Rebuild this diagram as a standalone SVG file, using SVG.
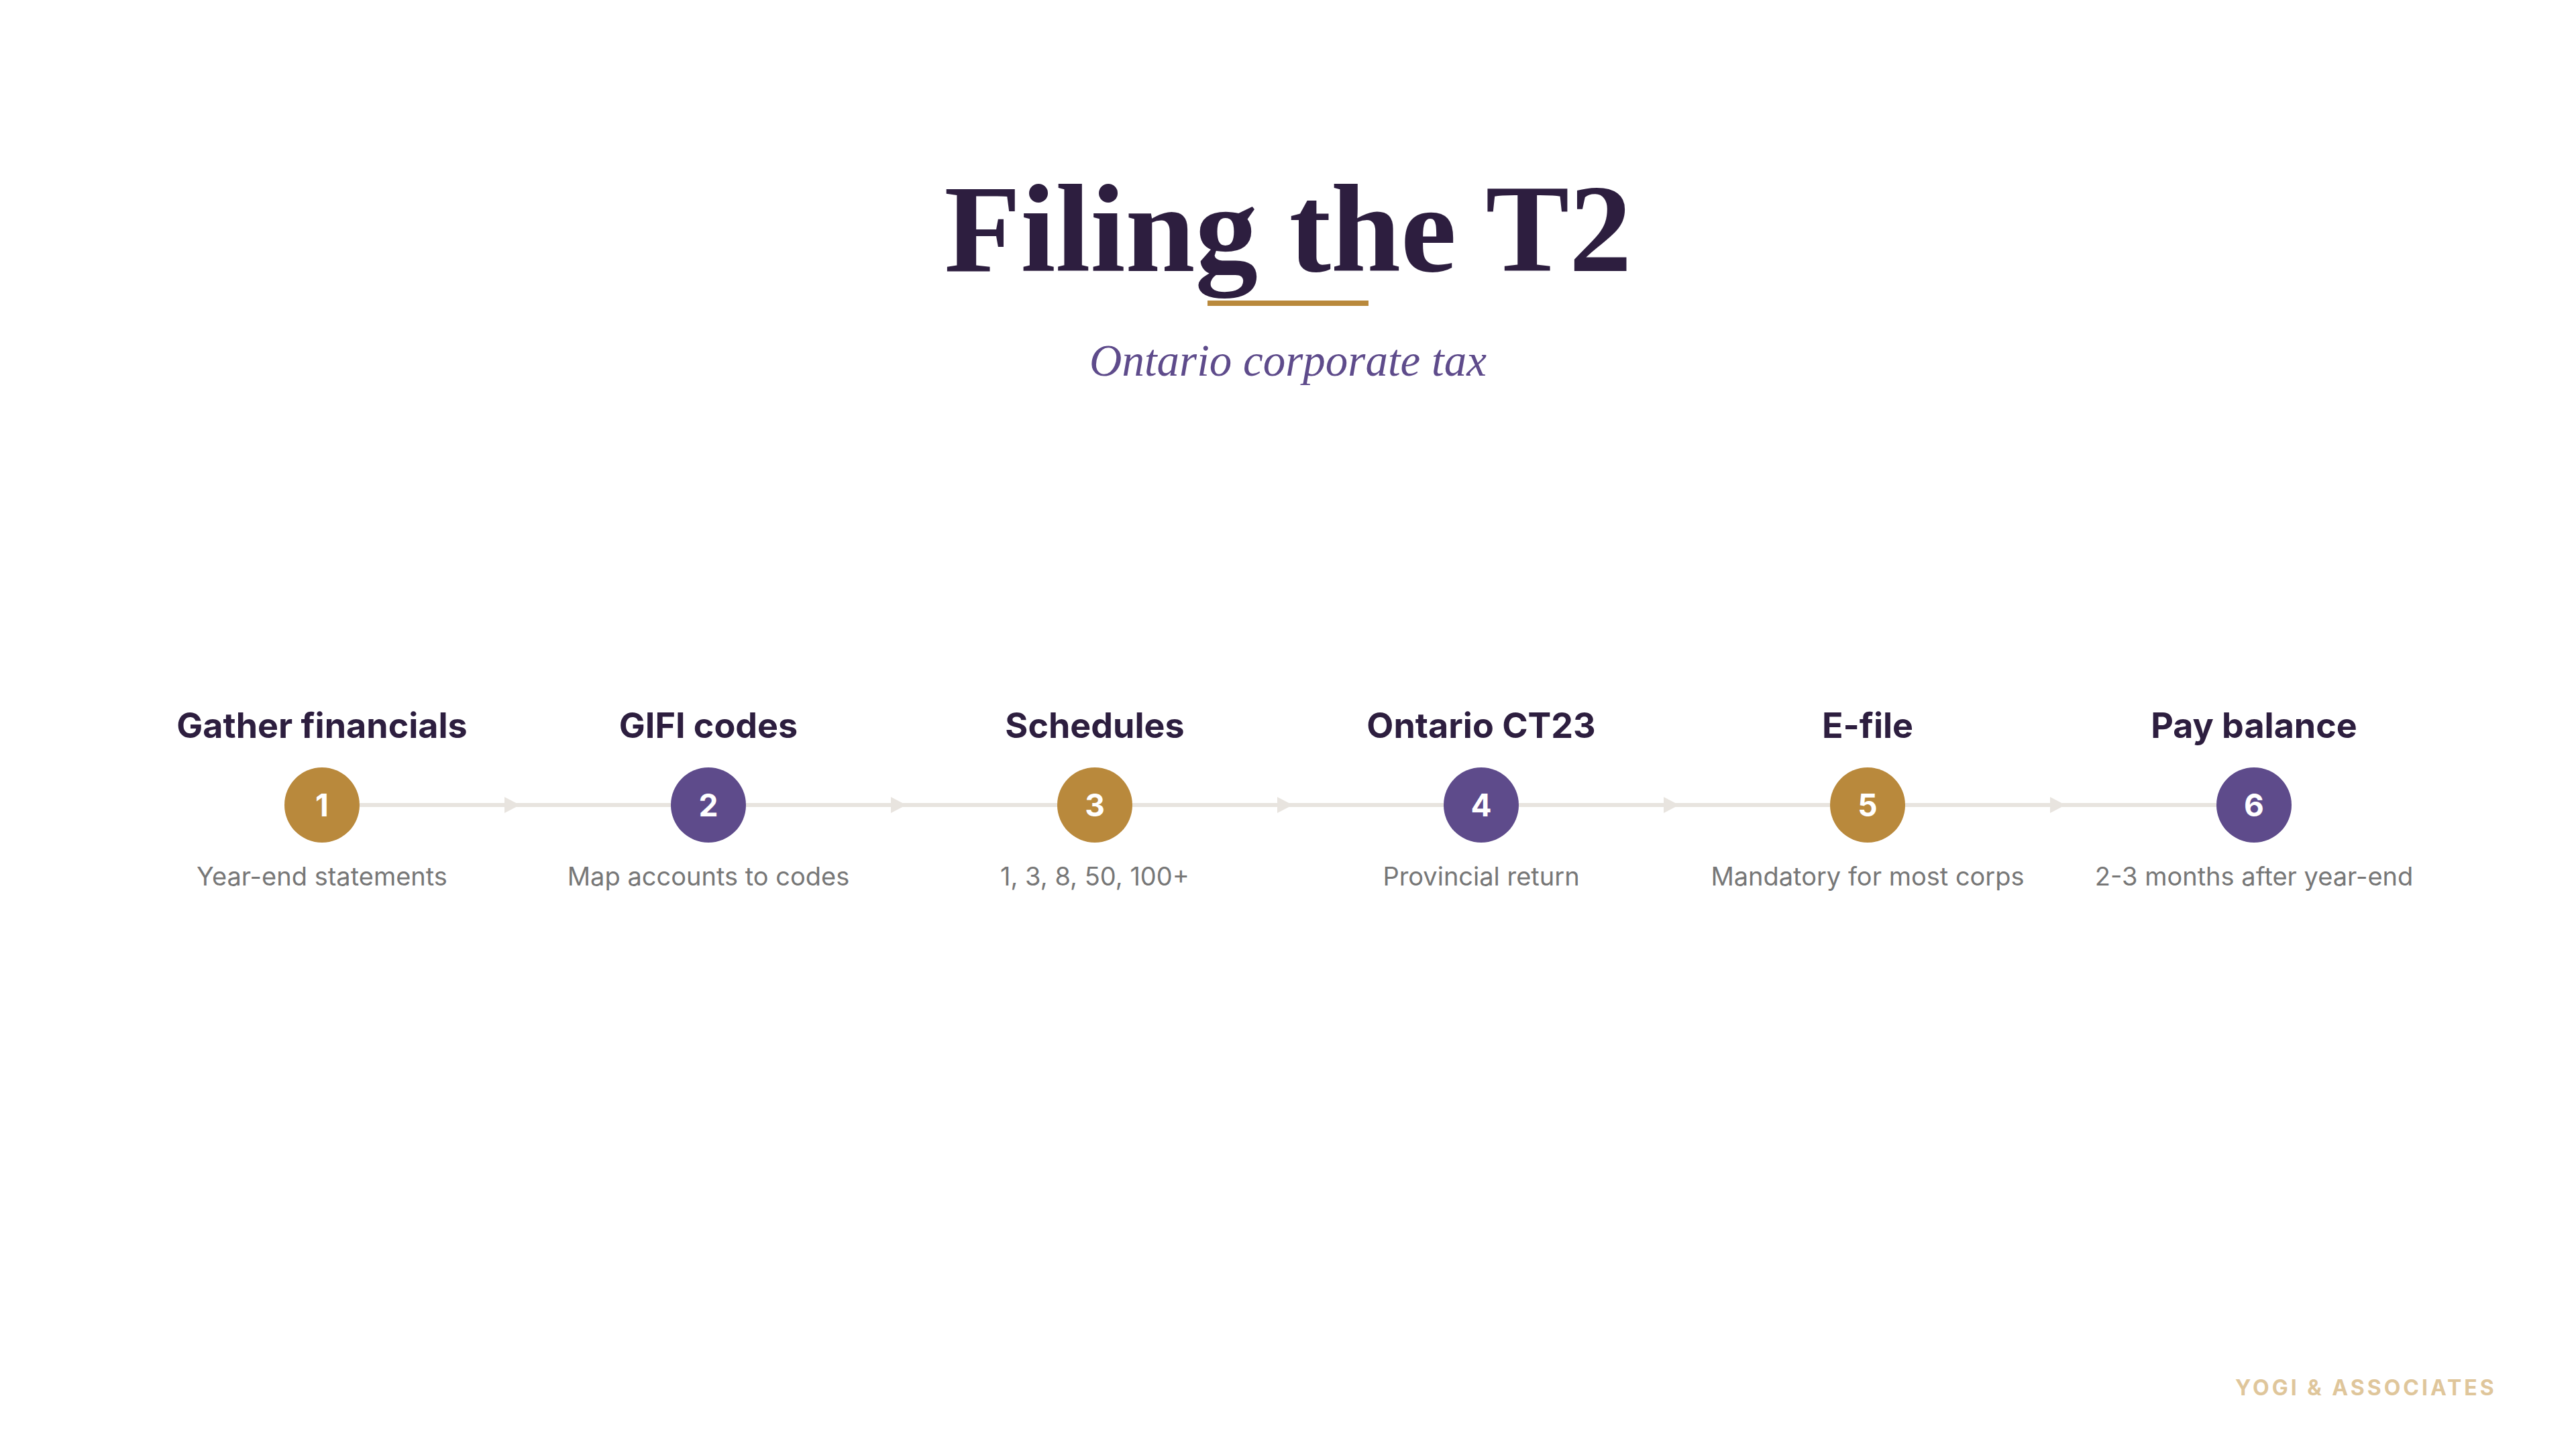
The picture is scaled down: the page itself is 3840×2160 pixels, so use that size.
<svg xmlns="http://www.w3.org/2000/svg" width="3840" height="2160" viewBox="0 0 3840 2160">
<style>
.title{font-family:"Liberation Serif","DejaVu Serif",serif;font-weight:700;font-size:187px;fill:#2D1E3F;text-anchor:middle}
.sub{font-family:"Liberation Serif","DejaVu Serif",serif;font-style:italic;font-size:67px;fill:#5E4B8B;text-anchor:middle}
.lbl{font-family:Inter,"Noto Sans",sans-serif;font-weight:700;font-size:52px;fill:#2D1E3F;text-anchor:middle}
.desc{font-family:Inter,"Noto Sans",sans-serif;font-weight:400;font-size:38px;fill:#777777;text-anchor:middle}
.num{font-family:Inter,"Noto Sans",sans-serif;font-weight:700;font-size:46px;fill:#FFFFFF;text-anchor:middle}
.gold{fill:#B9893C}
.purple{fill:#5E4B8B}
.line{stroke:#E8E4DF;stroke-width:6;fill:none}
.head{fill:#E8E4DF}
.foot{font-family:Inter,"Noto Sans",sans-serif;font-weight:700;font-size:32px;fill:#DFC69B;letter-spacing:4px}
</style>
<rect width="3840" height="2160" fill="#FFFFFF"/>
<g id="title">
<text class="title" x="1920" y="404">Filing the T2</text>
<rect x="1800" y="448" width="240" height="8" fill="#B9893C"/>
<text class="sub" x="1920" y="560">Ontario corporate tax</text>
</g>
<g id="connectors">
<line class="line" x1="536" y1="1200" x2="3304" y2="1200"/>
<polygon class="head" points="752,1188 775,1200 752,1212"/>
<polygon class="head" points="1328,1188 1351,1200 1328,1212"/>
<polygon class="head" points="1904,1188 1927,1200 1904,1212"/>
<polygon class="head" points="2480,1188 2503,1200 2480,1212"/>
<polygon class="head" points="3056,1188 3079,1200 3056,1212"/>
</g>
<g id="step1">
<text class="lbl" x="480" y="1100">Gather financials</text>
<circle class="gold" cx="480" cy="1200" r="56"/>
<text class="num" x="480" y="1217">1</text>
<text class="desc" x="480" y="1320">Year-end statements</text>
</g>
<g id="step2">
<text class="lbl" x="1056" y="1100">GIFI codes</text>
<circle class="purple" cx="1056" cy="1200" r="56"/>
<text class="num" x="1056" y="1217">2</text>
<text class="desc" x="1056" y="1320">Map accounts to codes</text>
</g>
<g id="step3">
<text class="lbl" x="1632" y="1100">Schedules</text>
<circle class="gold" cx="1632" cy="1200" r="56"/>
<text class="num" x="1632" y="1217">3</text>
<text class="desc" x="1632" y="1320">1, 3, 8, 50, 100+</text>
</g>
<g id="step4">
<text class="lbl" x="2208" y="1100">Ontario CT23</text>
<circle class="purple" cx="2208" cy="1200" r="56"/>
<text class="num" x="2208" y="1217">4</text>
<text class="desc" x="2208" y="1320">Provincial return</text>
</g>
<g id="step5">
<text class="lbl" x="2784" y="1100">E-file</text>
<circle class="gold" cx="2784" cy="1200" r="56"/>
<text class="num" x="2784" y="1217">5</text>
<text class="desc" x="2784" y="1320">Mandatory for most corps</text>
</g>
<g id="step6">
<text class="lbl" x="3360" y="1100">Pay balance</text>
<circle class="purple" cx="3360" cy="1200" r="56"/>
<text class="num" x="3360" y="1217">6</text>
<text class="desc" x="3360" y="1320">2-3 months after year-end</text>
</g>
<g id="footer">
<text class="foot" x="3332" y="2080">YOGI &amp; ASSOCIATES</text>
</g>
</svg>
